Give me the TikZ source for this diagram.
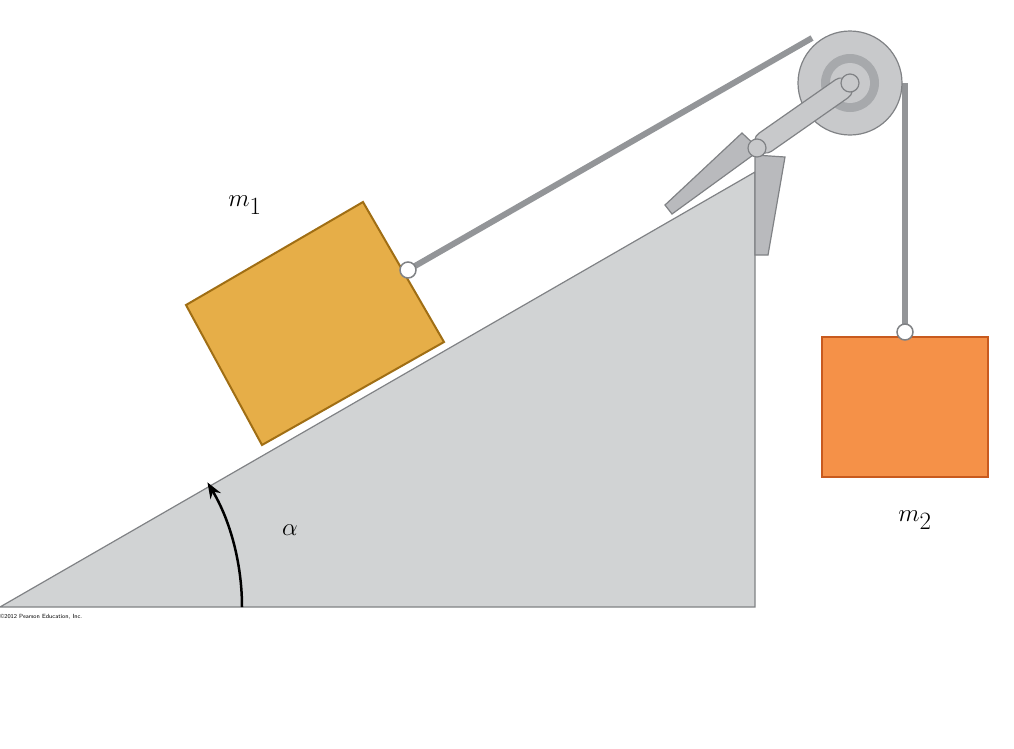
\documentclass[tikz,border=0pt]{standalone}
\usepackage{tikz}
\usetikzlibrary{arrows.meta}
\definecolor{rampgray}{RGB}{209,211,212}
\definecolor{edgegray}{RGB}{128,130,133}
\definecolor{ropegray}{RGB}{147,149,152}
\definecolor{pulleygray}{RGB}{200,201,203}
\definecolor{ringgray}{RGB}{167,169,172}
\definecolor{blockone}{RGB}{230,174,72}
\definecolor{blockoneedge}{RGB}{160,110,20}
\definecolor{blocktwo}{RGB}{245,145,72}
\definecolor{blocktwoedge}{RGB}{200,90,30}
\tikzset{part/.style={draw=edgegray, line width=1.2pt},
         rope/.style={draw=ropegray, line width=6pt},
         hook/.style={draw=edgegray, fill=white, line width=1.5pt},
         label/.style={font=\fontsize{46}{48}\selectfont}}
\begin{document}
\begin{tikzpicture}[x=1pt, y=-1pt]
\useasboundingbox (0,0) rectangle (1014,748);

% ramp
\filldraw[part, fill=rampgray] (0,607) -- (755,607) -- (755,172) -- cycle;
\node[font=\sffamily\fontsize{6}{7}\selectfont, anchor=north west, inner sep=0pt] (copy) at (0,614) {\copyright2012 Pearson Education, Inc.};

% ropes
\coordinate (hookone) at (408,270);
\coordinate (hooktwo) at (905,332);
\coordinate (top) at (812,38);
\draw[rope] (hookone) -- (top);
\draw[rope] (905,83) -- (hooktwo);

% bracket
\filldraw[part, fill=ringgray!80] (665,205) -- (742,133) -- (760,150) -- (672,214) -- cycle;
\filldraw[part, fill=ringgray!80] (755,155) -- (785,157) -- (768,255) -- (755,255) -- cycle;

% pulley
\filldraw[part, fill=pulleygray] (850,83) circle (52);
\filldraw[draw=none, fill=ringgray] (850,83) circle (29);
\filldraw[draw=none, fill=pulleygray] (850,83) circle (20);
\filldraw[part, fill=pulleygray, rounded corners=10pt]
  (750.7,139) -- (843.7,74) -- (856.3,92) -- (763.3,157) -- cycle;
\filldraw[part, fill=pulleygray] (757,148) circle (9);
\filldraw[part, fill=pulleygray] (850,83) circle (9);

% blocks
\filldraw[draw=blockoneedge, fill=blockone, line width=2pt] (186,305) -- (363,202) -- (444,342) -- (262,445) -- cycle;
\filldraw[hook] (hookone) circle (8);
\filldraw[draw=blocktwoedge, fill=blocktwo, line width=2pt] (822,337) rectangle (988,477);
\filldraw[hook] (hooktwo) circle (8);

% angle
\draw[line width=2.5pt, -{Stealth[length=16pt, width=12pt]}] (242,607) arc[start angle=0, end angle=-31, radius=242];
\node[label] (alpha) at (290,530) {$\alpha$};
\node[label] (mone) at (245,205) {$m_1$};
\node[label] (mtwo) at (915,520) {$m_2$};
\end{tikzpicture}
\end{document}
